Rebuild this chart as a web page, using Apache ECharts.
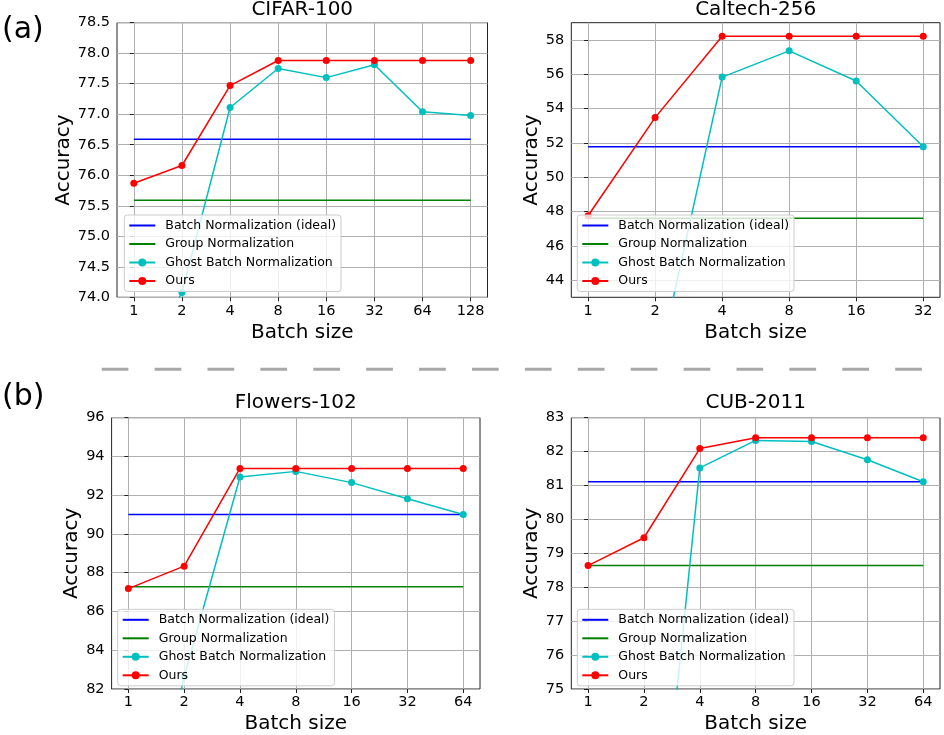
<!DOCTYPE html>
<html>
<head>
<meta charset="utf-8">
<script src="https://cdn.jsdelivr.net/npm/echarts@6/dist/echarts.min.js"></script>
<style>
  html, body { margin: 0; padding: 0; background: #fff; }
  #chart { width: 944px; height: 735px; }
</style>
</head>
<body>
<div id="chart"></div>
<script>
// batch sizes (x categories)
const batchCifar = ['1', '2', '4', '8', '16', '32', '64', '128']
const batchCaltech = ['1', '2', '4', '8', '16', '32']
const batchFlowers = ['1', '2', '4', '8', '16', '32', '64']
const batchCub = ['1', '2', '4', '8', '16', '32', '64']

// CIFAR-100
const cifarBN = [76.59, 76.59, 76.59, 76.59, 76.59, 76.59, 76.59, 76.59]
const cifarGN = [75.59, 75.59, 75.59, 75.59, 75.59, 75.59, 75.59, 75.59]
const cifarGhost = [72.5, 74.08, 77.11, 77.75, 77.6, 77.81, 77.04, 76.98]
const cifarOurs = [75.87, 76.16, 77.47, 77.88, 77.88, 77.88, 77.88, 77.88]

// Caltech-256
const caltechBN = [51.77, 51.77, 51.77, 51.77, 51.77, 51.77]
const caltechGN = [47.6, 47.6, 47.6, 47.6, 47.6, 47.6]
const caltechGhost = [30.0, 38.2, 55.83, 57.36, 55.6, 51.77]
const caltechOurs = [47.75, 53.47, 58.21, 58.21, 58.21, 58.21]

// Flowers-102
const flowersBN = [91.0, 91.0, 91.0, 91.0, 91.0, 91.0, 91.0]
const flowersGN = [87.28, 87.28, 87.28, 87.28, 87.28, 87.28, 87.28]
const flowersGhost = [70.0, 82.63, 92.94, 93.23, 92.65, 91.82, 91.0]
const flowersOurs = [87.18, 88.34, 93.38, 93.38, 93.38, 93.38, 93.38]

// CUB-2011
const cubBN = [81.11, 81.11, 81.11, 81.11, 81.11, 81.11, 81.11]
const cubGN = [78.64, 78.64, 78.64, 78.64, 78.64, 78.64, 78.64]
const cubGhost = [60.0, 65.5, 81.52, 82.33, 82.3, 81.76, 81.11]
const cubOurs = [78.64, 79.46, 82.09, 82.41, 82.41, 82.41, 82.41]

// y tick values
const cifarTicks = [74.0, 74.5, 75.0, 75.5, 76.0, 76.5, 77.0, 77.5, 78.0, 78.5]
const caltechTicks = [44, 46, 48, 50, 52, 54, 56, 58]
const flowersTicks = [82, 84, 86, 88, 90, 92, 94, 96]
const cubTicks = [75, 76, 77, 78, 79, 80, 81, 82, 83]

const names = ['Batch Normalization (ideal)', 'Group Normalization', 'Ghost Batch Normalization', 'Ours']
const colors = ['#0000ff', '#008000', '#00bfbf', '#ff0000']
const FONT = 'DejaVu Sans'

const panels = [
  { title: 'CIFAR-100', labels: batchCifar, data: [cifarBN, cifarGN, cifarGhost, cifarOurs],
    yMin: 74, yMax: 78.5, ticks: cifarTicks, digits: 1,
    rect: { left: 117, top: 22.7, width: 370.5, height: 274.6 }, nameGap: 42, legend: [124.3, 215] },
  { title: 'Caltech-256', labels: batchCaltech, data: [caltechBN, caltechGN, caltechGhost, caltechOurs],
    yMin: 43, yMax: 59, ticks: caltechTicks, digits: 0,
    rect: { left: 571.3, top: 22.7, width: 368.7, height: 274.6 }, nameGap: 29, legend: [577.3, 215] },
  { title: 'Flowers-102', labels: batchFlowers, data: [flowersBN, flowersGN, flowersGhost, flowersOurs],
    yMin: 82, yMax: 96, ticks: flowersTicks, digits: 0,
    rect: { left: 111.6, top: 417.7, width: 368.4, height: 274.6 }, nameGap: 30, legend: [117.7, 609.3] },
  { title: 'CUB-2011', labels: batchCub, data: [cubBN, cubGN, cubGhost, cubOurs],
    yMin: 75, yMax: 83, ticks: cubTicks, digits: 0,
    rect: { left: 571.3, top: 417.7, width: 368.7, height: 274.6 }, nameGap: 29, legend: [577.3, 609.3] }
]

const grid = []
const xAxis = []
const yAxis = []
const series = []
const legend = []
const title = []

// BN / GN have no markers: hide the dot ECharts draws in their legend icon
const legendData = names.map((name, s) => (s < 2
  ? { name, itemStyle: { color: 'rgba(0,0,0,0)', borderWidth: 0 } }
  : { name }))

panels.forEach((p, i) => {
  const n = p.labels.length
  const pad = 0.05 * (n - 1)
  const idx = p.labels.map((_, k) => k)

  grid.push(Object.assign({ show: true, borderColor: '#222', borderWidth: 1, containLabel: false }, p.rect))

  xAxis.push({
    type: 'value',
    gridIndex: i,
    min: -pad,
    max: n - 1 + pad,
    name: 'Batch size',
    nameLocation: 'middle',
    nameGap: 25,
    nameTextStyle: { fontSize: 20, color: '#000', fontFamily: FONT },
    axisLine: { show: false },
    axisTick: { show: true, length: 4, lineStyle: { color: '#222' }, customValues: idx },
    axisLabel: {
      customValues: idx,
      margin: 6,
      fontSize: 14.5,
      color: '#000',
      fontFamily: FONT,
      formatter: (v) => p.labels[Math.round(v)]
    },
    splitLine: { show: true, lineStyle: { color: '#b0b0b0', width: 1 } }
  })

  yAxis.push({
    type: 'value',
    gridIndex: i,
    min: p.yMin,
    max: p.yMax,
    name: 'Accuracy',
    nameLocation: 'middle',
    nameGap: p.nameGap,
    nameTextStyle: { fontSize: 20, color: '#000', fontFamily: FONT },
    axisLine: { show: false },
    axisTick: { show: true, length: 4, lineStyle: { color: '#222' }, customValues: p.ticks },
    axisLabel: {
      customValues: p.ticks,
      margin: 7,
      fontSize: 14.5,
      color: '#000',
      fontFamily: FONT,
      formatter: (v) => v.toFixed(p.digits)
    },
    splitLine: { show: true, lineStyle: { color: '#b0b0b0', width: 1 } }
  })

  p.data.forEach((vals, s) => {
    const marker = s >= 2
    series.push({
      name: names[s],
      type: 'line',
      xAxisIndex: i,
      yAxisIndex: i,
      data: vals.map((v, k) => [k, v]),
      symbol: marker ? 'circle' : 'none',
      symbolSize: 7,
      showSymbol: marker,
      clip: true,
      lineStyle: { color: colors[s], width: 1.5 },
      itemStyle: { color: colors[s] },
      z: 2
    })
  })

  legend.push({
    orient: 'vertical',
    left: p.legend[0],
    top: p.legend[1],
    data: legendData,
    padding: [4, 5, 4, 4],
    itemWidth: 26,
    itemHeight: 10,
    itemGap: 5.5,
    backgroundColor: 'rgba(255,255,255,0.8)',
    borderColor: '#cccccc',
    borderWidth: 1,
    borderRadius: 3,
    selectedMode: false,
    z: 10,
    textStyle: { fontSize: 12.5, color: '#000', fontFamily: FONT, padding: [0, 0, 0, 5] }
  })

  title.push({
    text: p.title,
    left: p.rect.left + p.rect.width / 2,
    top: i < 2 ? 0 : 393,
    textAlign: 'center',
    padding: 0,
    textStyle: { fontSize: 20, fontWeight: 'normal', color: '#000', fontFamily: FONT }
  })
})

title.push({ text: '(a)', left: 2, top: 15, padding: 0,
  textStyle: { fontSize: 30, fontWeight: 'normal', color: '#000', fontFamily: FONT } })
title.push({ text: '(b)', left: 2, top: 382, padding: 0,
  textStyle: { fontSize: 30, fontWeight: 'normal', color: '#000', fontFamily: FONT } })

const chart = echarts.init(document.getElementById('chart'), null, { renderer: 'canvas' })
chart.setOption({
  backgroundColor: '#fff',
  animation: false,
  title,
  grid,
  xAxis,
  yAxis,
  series,
  legend,
  graphic: [
    {
      type: 'line',
      shape: { x1: 101.7, y1: 369.3, x2: 944, y2: 369.3 },
      style: { stroke: '#a8a8a8', lineWidth: 3, lineDash: [26.7, 26.2] },
      silent: true
    }
  ]
})
</script>
</body>
</html>
